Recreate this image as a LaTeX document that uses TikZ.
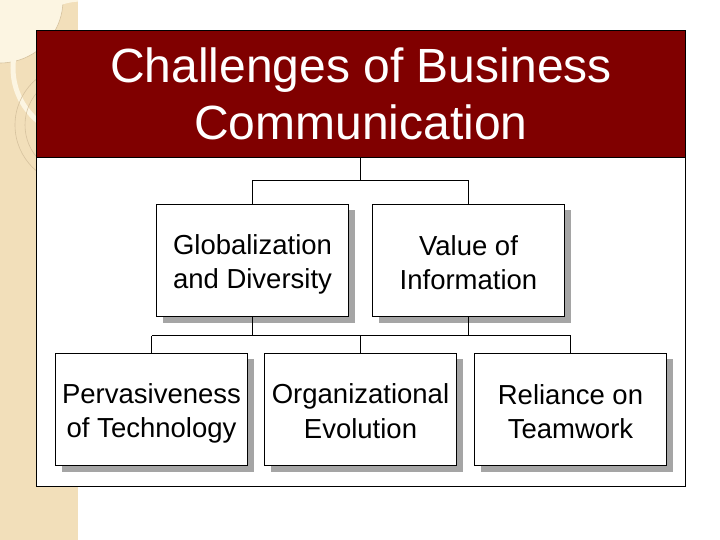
\documentclass[tikz,border=0pt]{standalone}
\usepackage{fontspec}
\setmainfont{Liberation Sans}
\usepackage{xcolor,tikz}
\usetikzlibrary{calc,positioning,shadows}
\definecolor{maroon}{RGB}{128,0,0}
\definecolor{beige}{RGB}{242,223,186}
\definecolor{cream}{RGB}{252,245,226}
\definecolor{arcline}{RGB}{214,194,158}
\definecolor{shadowgray}{RGB}{165,165,165}
\tikzset{>=stealth}
\newcommand\boxstrut{\rule[-5.5pt]{0pt}{34pt}}
\begin{document}
\begin{tikzpicture}[x=1pt,y=-1pt,
  box/.style={draw=black,fill=white,line width=1pt,minimum width=192pt,minimum height=112.5pt,align=center,
    font=\fontsize{27.5}{34}\selectfont,inner sep=0pt,
    drop shadow={shadow xshift=6pt,shadow yshift=-6pt,fill=shadowgray,opacity=1}},
  link/.style={draw=black,line width=1pt}]
\useasboundingbox (0,0) rectangle (720,540);
\begin{scope}
\clip (0,0) rectangle (78,540);
\fill[beige] (0,0) rectangle (78,540);
\fill[cream] (0,0) circle (63pt);
\draw[arcline,line width=0.6pt] (0,0) circle (63pt);
\draw[cream,line width=5pt] (82,68) circle (69pt);
\draw[arcline,line width=0.6pt] (75,125) circle (60pt);
\draw[arcline,line width=0.6pt] (75,125) circle (50pt);
\end{scope}
\draw[black,fill=white,line width=1pt] (36.5,30.5) rectangle (685.5,486.5);
\node[draw=black,fill=maroon,line width=1pt,minimum width=649pt,minimum height=127pt,inner sep=0pt,
  text=white,align=center,font=\fontsize{48}{57.6}\selectfont] (title) at (361,94)
  {Challenges of Business\\Communication};
\node[box] (glob) at (252.5,260.5) {\boxstrut Globalization\\\boxstrut and Diversity};
\node[box] (val) at (468.5,260.5) {\boxstrut Value of\\\boxstrut Information};
\node[box] (perv) at (151.5,409.5) {\boxstrut Pervasiveness\\\boxstrut of Technology};
\node[box] (org) at (360.5,409.5) {\boxstrut Organizational\\\boxstrut Evolution};
\node[box] (team) at (570.5,409.5) {\boxstrut Reliance on\\\boxstrut Teamwork};
\coordinate (top) at (360.5,180.5);
\coordinate (bar) at (360.5,335.5);
\draw[link] (top |- title.south) -- (top);
\draw[link] (glob.north) |- (top) -| (val.north);
\foreach \n in {glob,val}{
\draw[link] (\n.south) -- (\n.south |- bar);
}
\foreach \n in {perv,org,team}{
\draw[link] (\n.north) -- (\n.north |- bar);
}
\draw[link] (perv.north |- bar) -- (team.north |- bar);
\end{tikzpicture}
\end{document}
